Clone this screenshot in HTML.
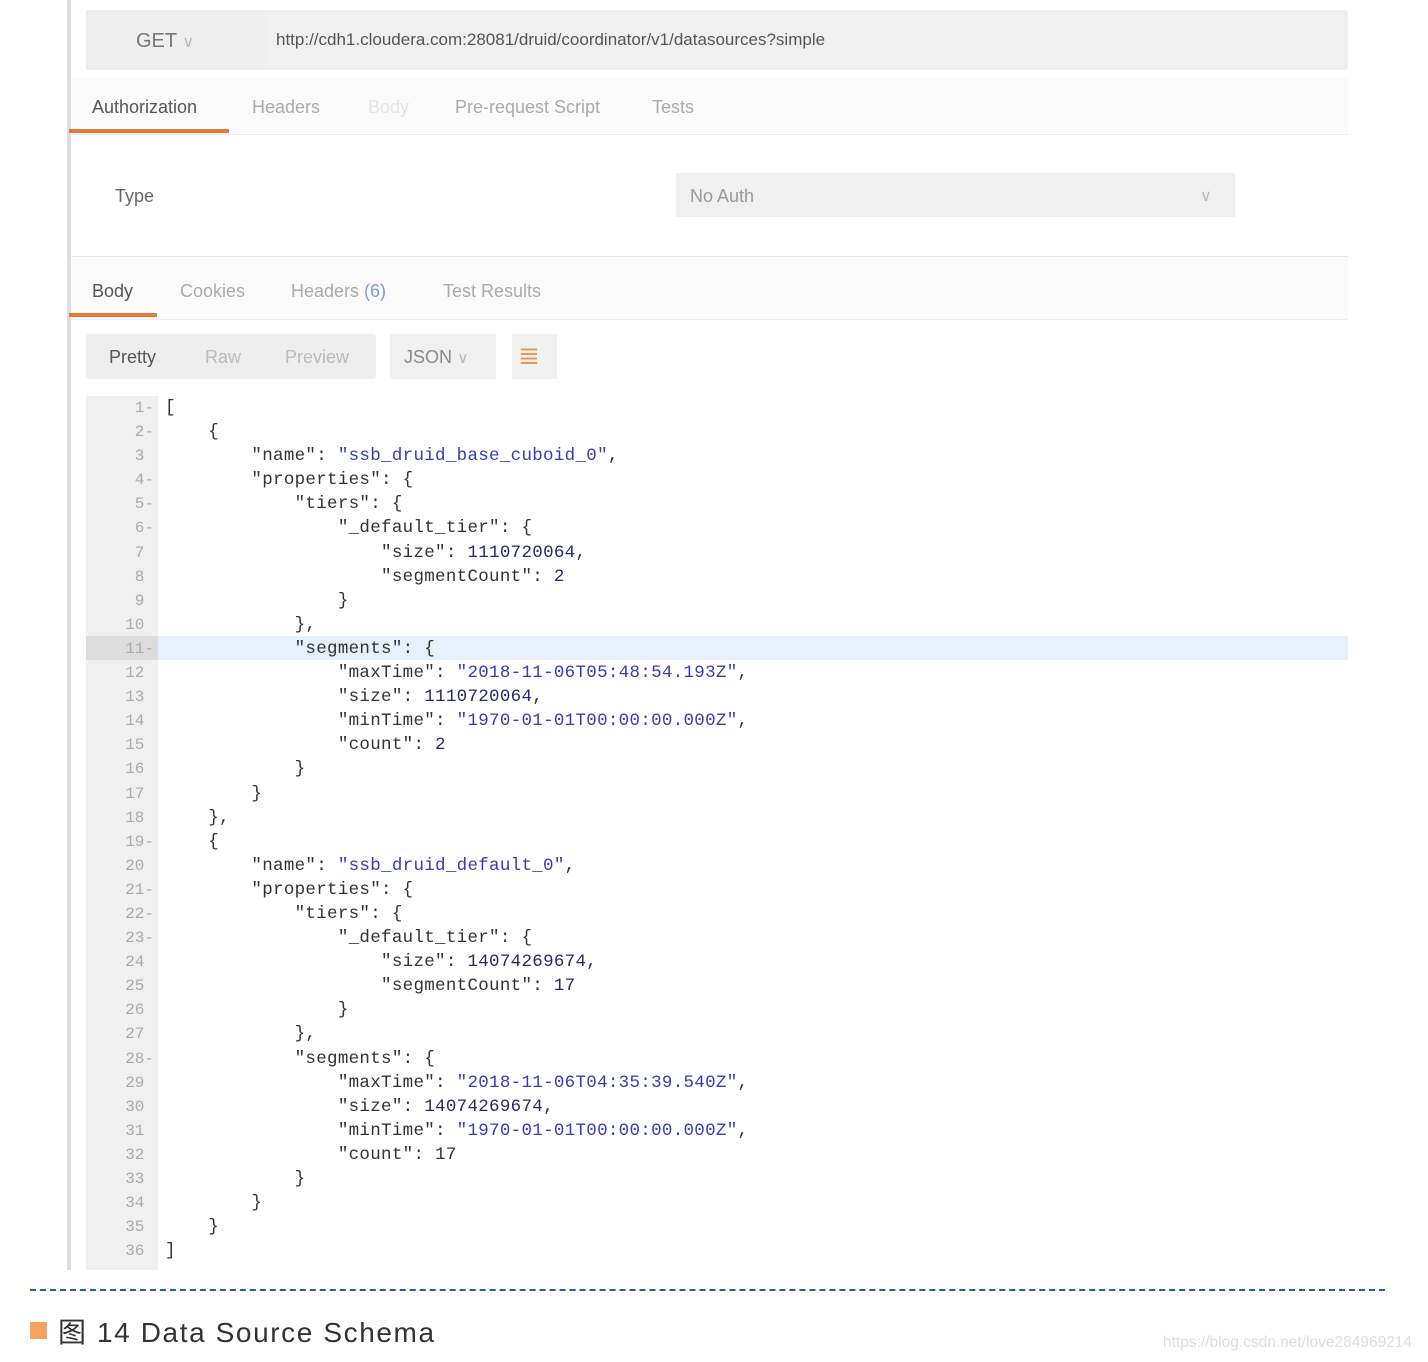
<!DOCTYPE html>
<html><head><meta charset="utf-8"><style>
body{margin:0;width:1428px;height:1362px;background:#fff;position:relative;overflow:hidden;font-family:"Liberation Sans",sans-serif}
.a{position:absolute}
.t{position:absolute;font-size:18px;color:#aaa;white-space:nowrap}
.code{position:absolute;left:165px;top:396px;font-family:"Liberation Mono",monospace;font-size:17.5px;line-height:24.1px;color:#333;white-space:pre;letter-spacing:0.3px}
.code .s{color:#3b3bb0}.code .n{color:#2a2a66}
.ln{position:absolute;left:86px;top:396px;width:68px;text-align:right;font-family:"Liberation Mono",monospace;font-size:16px;line-height:24.1px;color:#aaa;white-space:pre}
</style></head><body>
<div class="a" style="left:67px;top:0;width:4px;height:1270px;background:#ddd"></div>
<div class="a" style="left:71px;top:0;width:1277px;height:1270px;background:#fff"></div>
<div class="a" style="left:86px;top:10px;width:1262px;height:60px;background:#f0f0f0;border-radius:4px"></div>
<div class="a" style="left:86px;top:10px;width:180px;height:60px;background:#eee"></div>
<div class="t" style="left:136px;top:30px;font-size:20px;color:#777">GET <span style="color:#bbb;font-size:16px">&#x2228;</span></div>
<div class="t" style="left:276px;top:30px;color:#555;font-size:17px">http://cdh1.cloudera.com:28081/druid/coordinator/v1/datasources?simple</div>
<div class="a" style="left:71px;top:78px;width:1277px;height:56px;background:#fbfbfb;border-bottom:1px solid #eee"></div>
<div class="t" style="left:92px;top:97px;color:#555">Authorization</div>
<div class="a" style="left:69px;top:129px;width:160px;height:4px;background:#e07b3c"></div>
<div class="t" style="left:252px;top:97px">Headers</div>
<div class="t" style="left:368px;top:97px;color:#e4e4e4">Body</div>
<div class="t" style="left:455px;top:97px">Pre-request Script</div>
<div class="t" style="left:652px;top:97px">Tests</div>
<div class="t" style="left:115px;top:186px;color:#666">Type</div>
<div class="a" style="left:676px;top:173px;width:559px;height:44px;background:#f0f0f0"></div>
<div class="t" style="left:690px;top:186px;color:#999">No Auth</div>
<div class="t" style="left:1200px;top:186px;color:#bbb;font-size:16px">&#x2228;</div>
<div class="a" style="left:71px;top:256px;width:1277px;height:1px;background:#e6e6e6"></div>
<div class="a" style="left:71px;top:257px;width:1277px;height:62px;background:#fbfbfb;border-bottom:1px solid #eee"></div>
<div class="t" style="left:92px;top:281px;color:#555">Body</div>
<div class="a" style="left:69px;top:313px;width:88px;height:4px;background:#e07b3c"></div>
<div class="t" style="left:180px;top:281px">Cookies</div>
<div class="t" style="left:291px;top:281px">Headers <span style="color:#7b9bd0">(6)</span></div>
<div class="t" style="left:443px;top:281px">Test Results</div>
<div class="a" style="left:86px;top:334px;width:290px;height:45px;background:#eee;border-radius:3px"></div>
<div class="t" style="left:109px;top:347px;color:#555">Pretty</div>
<div class="t" style="left:205px;top:347px;color:#bbb">Raw</div>
<div class="t" style="left:285px;top:347px;color:#bbb">Preview</div>
<div class="a" style="left:390px;top:334px;width:106px;height:45px;background:#f0f0f0"></div>
<div class="t" style="left:404px;top:347px;color:#888">JSON <span style="color:#bbb;font-size:16px">&#x2228;</span></div>
<div class="a" style="left:512px;top:334px;width:45px;height:45px;background:#f0f0f0"></div>
<div class="t" style="left:518px;top:340px;color:#e8965a;font-size:26px">&#x2263;</div>
<div class="a" style="left:86px;top:396px;width:72px;height:874px;background:#f0f0f0"></div>
<div class="a" style="left:86px;top:636px;width:72px;height:24px;background:#dcdcdc"></div>
<div class="a" style="left:158px;top:636px;width:1190px;height:24px;background:#e8f0fb"></div>
<div class="ln">1-
2-
3 
4-
5-
6-
7 
8 
9 
10 
11-
12 
13 
14 
15 
16 
17 
18 
19-
20 
21-
22-
23-
24 
25 
26 
27 
28-
29 
30 
31 
32 
33 
34 
35 
36 </div>
<div class="code">[
    {
        "name": <span class="s">"ssb_druid_base_cuboid_0"</span>,
        "properties": {
            "tiers": {
                "_default_tier": {
                    "size": <span class="n">1110720064</span>,
                    "segmentCount": <span class="n">2</span>
                }
            },
            "segments": {
                "maxTime": <span class="s">"2018-11-06T05:48:54.193Z"</span>,
                "size": <span class="n">1110720064</span>,
                "minTime": <span class="s">"1970-01-01T00:00:00.000Z"</span>,
                "count": <span class="n">2</span>
            }
        }
    },
    {
        "name": <span class="s">"ssb_druid_default_0"</span>,
        "properties": {
            "tiers": {
                "_default_tier": {
                    "size": <span class="n">14074269674</span>,
                    "segmentCount": <span class="n">17</span>
                }
            },
            "segments": {
                "maxTime": <span class="s">"2018-11-06T04:35:39.540Z"</span>,
                "size": <span class="n">14074269674</span>,
                "minTime": <span class="s">"1970-01-01T00:00:00.000Z"</span>,
                "count": <span class="n">17</span>
            }
        }
    }
]</div>
<div class="a" style="left:30px;top:1289px;width:1355px;border-top:2px dashed #2b5aa0"></div>
<div class="a" style="left:30px;top:1322px;width:17px;height:17px;background:#f4a460"></div>
<div class="t" style="left:58px;top:1311px;font-size:28px;letter-spacing:1.6px;color:#333;font-family:'Liberation Sans','Noto Sans CJK SC',sans-serif">图 14 Data Source Schema</div>
<div class="t" style="left:1163px;top:1334px;font-size:15.5px;color:#ddd">https://blog.csdn.net/love284969214</div>
</body></html>
